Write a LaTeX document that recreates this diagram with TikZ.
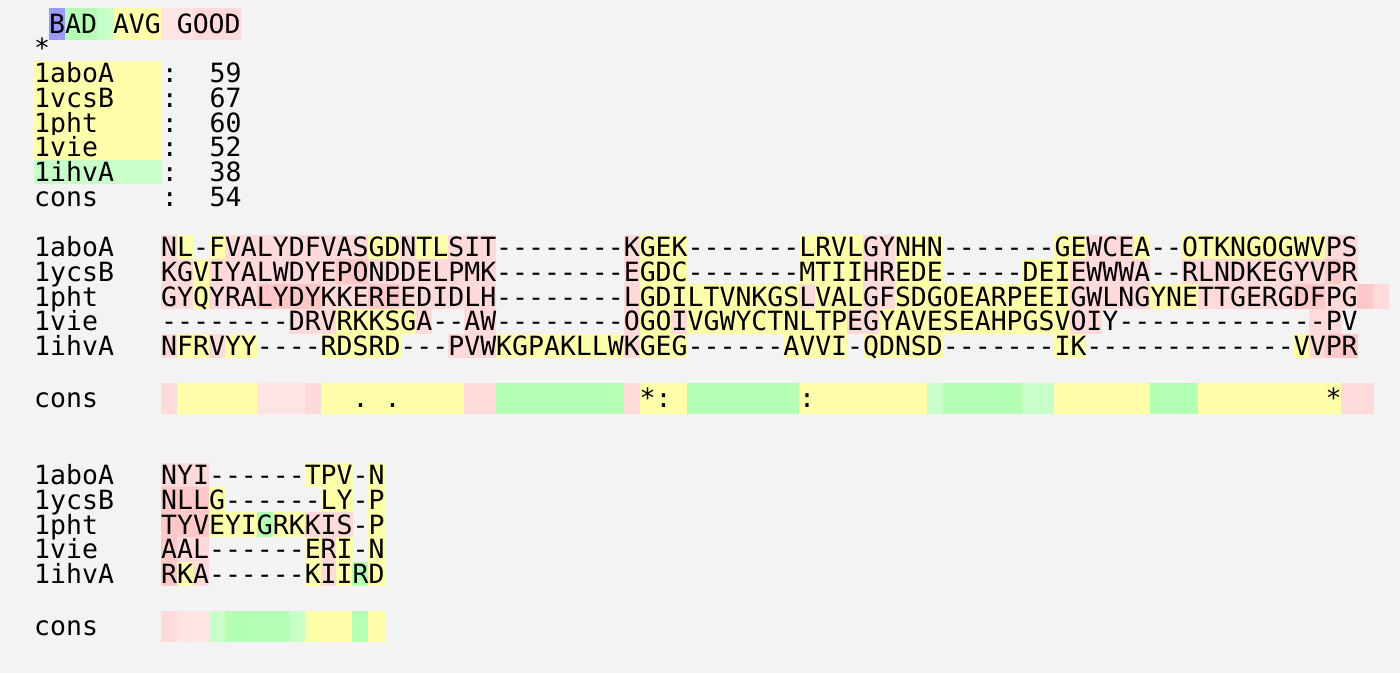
\documentclass[tikz,border=0pt]{standalone}
\usepackage{fontspec}
\newfontfamily\seqfont{DejaVu Sans Mono}
\definecolor{colp}{HTML}{FFDADA}
\definecolor{colq}{HTML}{FFE4E4}
\definecolor{colP}{HTML}{FFC8C8}
\definecolor{coly}{HTML}{FFFFAA}
\definecolor{colg}{HTML}{B3FFB3}
\definecolor{colG}{HTML}{C8FFC8}
\definecolor{colb}{HTML}{9999FF}
\definecolor{bgc}{HTML}{F3F3F3}
\definecolor{coln}{HTML}{F3F3F3}
\def\cw{15.95}
\def\rh{24.75}
\def\bgrow#1#2#3#4{\def\bgx{#1}\def\bgy{#2}\def\bgh{#3}\bgloop#4\relax}
\def\bgloop#1{\ifx#1\relax\else\bgcell#1\pgfmathsetmacro\bgx{\bgx+\cw}\expandafter\bgloop\fi}
\def\bgcell#1{\ifx#1.\else\fill[col#1] (\bgx,\bgy-\bgh/2) rectangle ++(\cw+0.3,\bgh);\fi}
\tikzset{mono/.style={font=\fontsize{26.5}{26.5}\selectfont\seqfont,inner sep=0pt,anchor=base west,text=black}}
\begin{document}
\begin{tikzpicture}[x=1pt,y=-1pt]
\fill[bgc] (0,0) rectangle (1400,673);
\useasboundingbox (0,0) rectangle (1400,673);
% legend
\bgrow{49}{24}{32}{bggGyyyqqppp}
\node[mono] (leg) at (49,24+9.5) {BAD AVG GOOD};
\node[mono] (star) at (34,45+12) {*};
% score table
\foreach \i/\n/\s/\c in {0/1aboA/59/y,1/1vcsB/67/y,2/1pht/60/y,3/1vie/52/y,4/1ihvA/38/G,5/cons/54/n}{
  \pgfmathsetmacro\yy{73+\i*\rh}
  \fill[col\c] (34,\yy-\rh/2) rectangle ++(8*\cw,\rh);
  \node[mono] (sn\i) at (34,\yy+9.5) {\n};
  \node[mono] (sc\i) at (34+8*\cw,\yy+9.5) {:};
  \node[mono] (sv\i) at (34+11*\cw,\yy+9.5) {\s};
}
% block 1
\def\xo{161}
\bgrow{\xo}{247}{\rh}{py.ypppppppppyypyyppp........pyyy.......yyyyppyyy.......yypppy..yyyyyyyyypp}
\bgrow{\xo}{247+\rh}{\rh}{ppyppppppppPPpppppppp........pyyy.......yyyyppyyy.....yyyppppp..pppppppppPp}
\bgrow{\xo}{247+2*\rh}{\rh}{ppypppPPPPpppPPpppppp........pyyyyyyyyyypyyyppyyyyyyyyyyypppppyyyppppppPPppPp}
\bgrow{\xo}{247+3*\rh}{\rh}{........pppyyyyyp..pp........pyypyyyyyyyyyyppyyyyyyyyyyyypp.............pp}
\bgrow{\xo}{247+4*\rh}{\rh}{pyypyy....yyyyy...pppyyyyyyyypyyy......yyyy.yyyyy.......yy.............ypPP}
\bgrow{\xo}{398}{31}{pyyyyyqqqpyyyyyyyyyppggggggggpyyygggggggyyyyyyyyGgggggGGyyyyyygggyyyyyyyyypp}
\foreach \i/\n/\t in {0/1aboA/NL-FVALYDFVASGDNTLSIT--------KGEK-------LRVLGYNHN-------GEWCEA--OTKNGOGWVPS,
  1/1ycsB/KGVIYALWDYEPONDDELPMK--------EGDC-------MTIIHREDE-----DEIEWWWA--RLNDKEGYVPR,
  2/1pht/GYQYRALYDYKKEREEDIDLH--------LGDILTVNKGSLVALGFSDGOEARPEEIGWLNGYNETTGERGDFPG,
  3/1vie/--------DRVRKKSGA--AW--------OGOIVGWYCTNLTPEGYAVESEAHPGSVOIY-------------PV,
  4/1ihvA/NFRVYY----RDSRD---PVWKGPAKLLWKGEG------AVVI-QDNSD-------IK-------------VVPR}{
  \pgfmathsetmacro\yy{247+\i*\rh}
  \node[mono] (an\i) at (34,\yy+9.5) {\n};
  \node[mono] (as\i) at (\xo,\yy+9.5) {\t};
}
\node[mono] (acons) at (34,398+9.5) {cons};
\foreach \p/\s [count=\k] in {13/.,15/.,31/*,32/:,41/:,74/*}{
  \node[mono] (ac\k) at (\xo+\p*\cw-\cw,398+9.5) {\s};
}
% block 2
\bgrow{\xo}{475}{\rh}{ppp......yyy.y}
\bgrow{\xo}{475+\rh}{\rh}{PPPy......yy.y}
\bgrow{\xo}{475+2*\rh}{\rh}{PPPyyygyyppp.y}
\bgrow{\xo}{475+3*\rh}{\rh}{Ppp......ypy.y}
\bgrow{\xo}{475+4*\rh}{\rh}{Pyp......ypygy}
\bgrow{\xo}{626}{31}{pqqGggggGyyygy}
\foreach \i/\n/\t in {0/1aboA/NYI------TPV-N,1/1ycsB/NLLG------LY-P,2/1pht/TYVEYIGRKKIS-P,3/1vie/AAL------ERI-N,4/1ihvA/RKA------KIIRD}{
  \pgfmathsetmacro\yy{475+\i*\rh}
  \node[mono] (bn\i) at (34,\yy+9.5) {\n};
  \node[mono] (bs\i) at (\xo,\yy+9.5) {\t};
}
\node[mono] (bcons) at (34,626+9.5) {cons};
\end{tikzpicture}
\end{document}
